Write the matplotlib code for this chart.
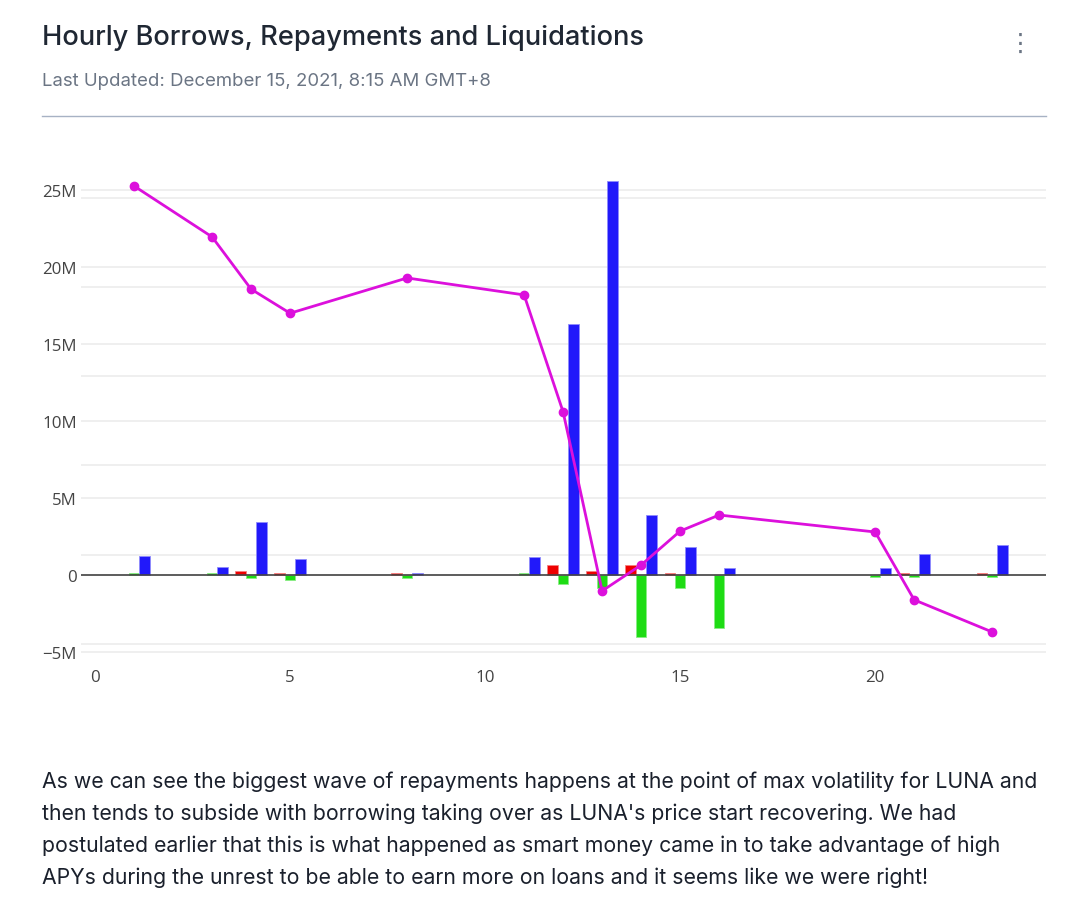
import numpy as np
import matplotlib
matplotlib.use("Agg")
import matplotlib.pyplot as plt
from matplotlib.ticker import FuncFormatter

plt.rcParams["font.family"] = ["Inter", "DejaVu Sans"]

# ---- data ----
hours = [1, 3, 4, 5, 8, 11, 12, 13, 14, 15, 16, 20, 21, 23]
liquidations = [np.nan, np.nan, 0.28, 0.1, 0.1, np.nan, 0.63, 0.26, 0.63, 0.1, np.nan, np.nan, 0.1, 0.1]   # M
repayments = [0.12, 0.12, -0.22, -0.35, -0.2, 0.1, -0.56, -0.86, -4.0, -0.87, -3.46, -0.15, -0.15, -0.15]    # M
borrows = [1.25, 0.5, 3.46, 1.04, 0.13, 1.2, 16.3, 25.56, 3.9, 1.82, 0.43, 0.47, 1.34, 1.93]                 # M
luna_price = [70.26, 69.12, 67.95, 67.41, 68.20, 67.82, 65.20, 61.19, 61.77, 62.53, 62.89, 62.51, 60.99, 60.27]

title = "Hourly Borrows, Repayments and Liquidations"
subtitle = "Last Updated: December 15, 2021, 8:15 AM GMT+8"
body = [
    "As we can see the biggest wave of repayments happens at the point of max volatility for LUNA and",
    "then tends to subside with borrowing taking over as LUNA's price start recovering. We had",
    "postulated earlier that this is what happened as smart money came in to take advantage of high",
    "APYs during the unrest to be able to earn more on loans and it seems like we were right!",
]

W, H = 1070, 904
fig = plt.figure(figsize=(W / 100, H / 100), dpi=100)
fig.patch.set_facecolor("white")

def fx(px): return px / W
def fy(py): return 1 - py / H

# header
fig.text(fx(42), fy(38), title, fontsize=19.6, fontweight="medium", color="#1f2733", va="center")
fig.text(fx(42), fy(82), subtitle, fontsize=13.4, color="#6b7584", va="center")
fig.text(fx(1020), fy(44), "⋮", fontsize=18, color="#6b7584", va="center", ha="center",
         family=["DejaVu Sans"])
fig.add_artist(plt.Line2D([fx(42), fx(1046)], [fy(117), fy(117)], color="#a7b2c4", lw=1.0))

# plot area
pos = [fx(81), fy(662), fx(1046) - fx(81), fy(162) - fy(662)]
xlim = (-0.36, 24.38)
ylim_bars = (-5.584e6, 26.88e6)
ylim_price = (59.62, 70.82)

# secondary-axis gridlines sit underneath everything
axg = fig.add_axes(pos, zorder=0)
axg.set_xlim(*xlim); axg.set_ylim(*ylim_price)
axg.set_yticks(np.arange(60, 71, 2))
axg.grid(axis="y", color="#ebebeb", lw=1.1)
axg.tick_params(left=False, bottom=False, labelleft=False, labelbottom=False)
for s in axg.spines.values():
    s.set_visible(False)

ax = fig.add_axes(pos, zorder=1)
ax.patch.set_visible(False)
x = np.array(hours, dtype=float)
w = 0.267
ax.bar(x - w, np.array(liquidations) * 1e6, w, color="#ee0000", edgecolor="#f58080", lw=0.6, zorder=3)
ax.bar(x, np.array(repayments) * 1e6, w, color="#1edc14", edgecolor="#8aec85", lw=0.6, zorder=3)
ax.bar(x + w, np.array(borrows) * 1e6, w, color="#2119fa", edgecolor="#8f8bfc", lw=0.6, zorder=3)
ax.axhline(0, color="#444444", lw=1.2, zorder=4)
ax.set_xlim(*xlim); ax.set_ylim(*ylim_bars)
ax.set_yticks(np.arange(-5e6, 26e6, 5e6))
ax.set_xticks([0, 5, 10, 15, 20])
ax.yaxis.set_major_formatter(FuncFormatter(
    lambda v, p: "0" if v == 0 else ("\u2212" if v < 0 else "") + f"{abs(v) / 1e6:.0f}M"))
ax.grid(axis="y", color="#ebebeb", lw=1.1, zorder=0)
ax.set_axisbelow(True)
ax.tick_params(length=0, labelsize=12.2, labelcolor="#444444", pad=3)
ax.tick_params(axis="x", pad=6)
for lab in ax.get_xticklabels() + ax.get_yticklabels():
    lab.set_family(["Open Sans", "DejaVu Sans"])
for s in ax.spines.values():
    s.set_visible(False)

ax2 = ax.twinx()
ax2.set_zorder(2)
ax2.plot(hours, luna_price, color="#dc10dc", lw=2.0, marker="o", ms=6, zorder=5)
ax2.set_ylim(*ylim_price)
ax2.set_xlim(*xlim)
ax2.tick_params(right=False, labelright=False)
for s in ax2.spines.values():
    s.set_visible(False)

# commentary under the chart
for i, line in enumerate(body):
    fig.text(fx(42), fy(782 + 32 * i), line, fontsize=15.3, color="#1a202c", va="center")

fig.savefig("out.png", dpi=100, facecolor="white")
